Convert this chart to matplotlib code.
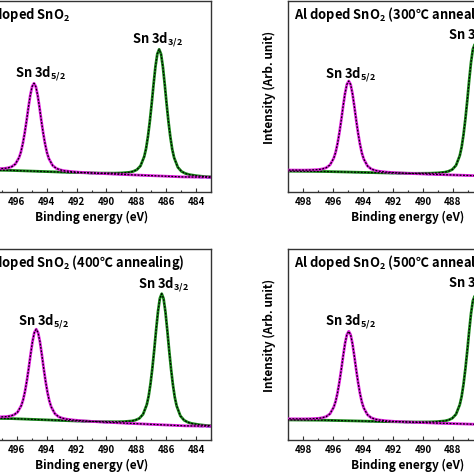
import numpy as np
import matplotlib.pyplot as plt
from matplotlib.ticker import MultipleLocator

plt.rcParams['font.family'] = ['Noto Sans CJK KR', 'DejaVu Sans']
plt.rcParams['mathtext.fontset'] = 'custom'
plt.rcParams['mathtext.default'] = 'regular'

titles = ['Al doped SnO$_2$',
          'Al doped SnO$_2$ (300℃ annealing)',
          'Al doped SnO$_2$ (400℃ annealing)',
          'Al doped SnO$_2$ (500℃ annealing)']

# peak shape: offset from peak centre (eV) -> fraction of peak height
offset = [0, 0.125, 0.25, 0.375, 0.5, 0.625, 0.75, 0.875, 1.0, 1.25, 1.5, 1.75, 2.0, 2.5, 3.0, 4.0, 6.0, 10.0, 17.0]
shape = [1.0, 0.963, 0.862, 0.722, 0.57, 0.43, 0.31, 0.215, 0.15, 0.075, 0.043, 0.029, 0.021, 0.014, 0.010, 0.006, 0.003, 0.001, 0.0]

# per panel (as-dep, 300, 400, 500 C)
pos_52 = [494.85, 494.95, 494.70, 494.95]   # Sn 3d5/2 centre (eV)
pos_32 = [486.47, 486.55, 486.30, 486.55]   # Sn 3d3/2 centre (eV)
top_52 = [0.569, 0.581, 0.580, 0.569]       # peak top (arb. unit)
top_32 = [0.747, 0.773, 0.766, 0.754]
bg_499 = [0.120, 0.112, 0.120, 0.108]       # background at 499 eV
bg_483 = [0.073, 0.077, 0.068, 0.074]       # background at 483 eV

# label spots
lab52_x = [494.43, 494.80, 494.23, 494.80]
lab52_y = [0.604, 0.598, 0.600, 0.600]
lab32_x = [486.57, 486.63, 486.17, 486.63]
lab32_y = [0.782, 0.800, 0.796, 0.800]

boxes = [[-28/474, 282/474, 239/474, 191/474],
         [288/474, 282/474, 240/474, 191/474],
         [-28/474, 34/474, 239/474, 191/474],
         [288/474, 34/474, 240/474, 191/474]]

d = np.array(offset)
d_full = np.concatenate([-d[::-1], d[1:]])
p_full = np.concatenate([shape[::-1], shape[1:]])

fig = plt.figure(figsize=(4.74, 4.74), dpi=100)

for i in range(4):
    ax = fig.add_axes(boxes[i])
    bgx = [483, 499]
    bgy = [bg_483[i], bg_499[i]]

    e52 = pos_52[i] + d_full
    e32 = pos_32[i] + d_full
    h52 = top_52[i] - np.interp(pos_52[i], bgx, bgy)
    h32 = top_32[i] - np.interp(pos_32[i], bgx, bgy)
    mag = np.interp(e52, bgx, bgy) + h52 * p_full
    grn = np.interp(e32, bgx, bgy) + h32 * p_full

    ax.plot(bgx, bgy, color='#3050d0', lw=1.0, ls='--', zorder=1)
    ax.plot(e32, grn, color='#1b8a1b', lw=2.0, zorder=2)
    ax.plot(e52, mag, color='#e020e0', lw=2.0, zorder=3)
    ax.plot(e52, mag, color='black', lw=0.9, ls=(0, (1.5, 1.2)), zorder=4)
    ax.plot(e32, grn, color='black', lw=0.9, ls=(0, (1.5, 1.2)), zorder=4)

    ax.set_xlim(499, 483)
    ax.set_ylim(0, 1)
    ax.set_xticks(np.arange(484, 499, 2))
    ax.xaxis.set_minor_locator(MultipleLocator(1))
    ax.tick_params(axis='x', which='major', direction='in', length=3, width=0.8,
                   labelsize=7, pad=3.5, color='#333333')
    ax.tick_params(axis='x', which='minor', direction='in', length=1.8, width=0.8, color='#333333')
    for lab in ax.get_xticklabels():
        lab.set_fontweight('bold')
    ax.set_yticks([])
    for s in ax.spines.values():
        s.set_color('#333333')
        s.set_linewidth(1.0)

    ax.set_xlabel('Binding energy (eV)', fontsize=8.5, fontweight='bold')
    ax.xaxis.set_label_coords(0.5, -0.1)
    ax.set_ylabel('Intensity (Arb. unit)', fontsize=8.5, fontweight='bold')
    ax.yaxis.set_label_coords(-0.05, 0.545)

    ax.text(0.025, 0.927, titles[i], transform=ax.transAxes, fontsize=9.3,
            fontweight='bold', va='center', ha='left')
    ax.text(lab52_x[i], lab52_y[i], 'Sn 3d$_{5/2}$', fontsize=9.3, fontweight='bold',
            ha='center', va='baseline')
    ax.text(lab32_x[i], lab32_y[i], 'Sn 3d$_{3/2}$', fontsize=9.3, fontweight='bold',
            ha='center', va='baseline')

fig.savefig('out.png', dpi=100)
